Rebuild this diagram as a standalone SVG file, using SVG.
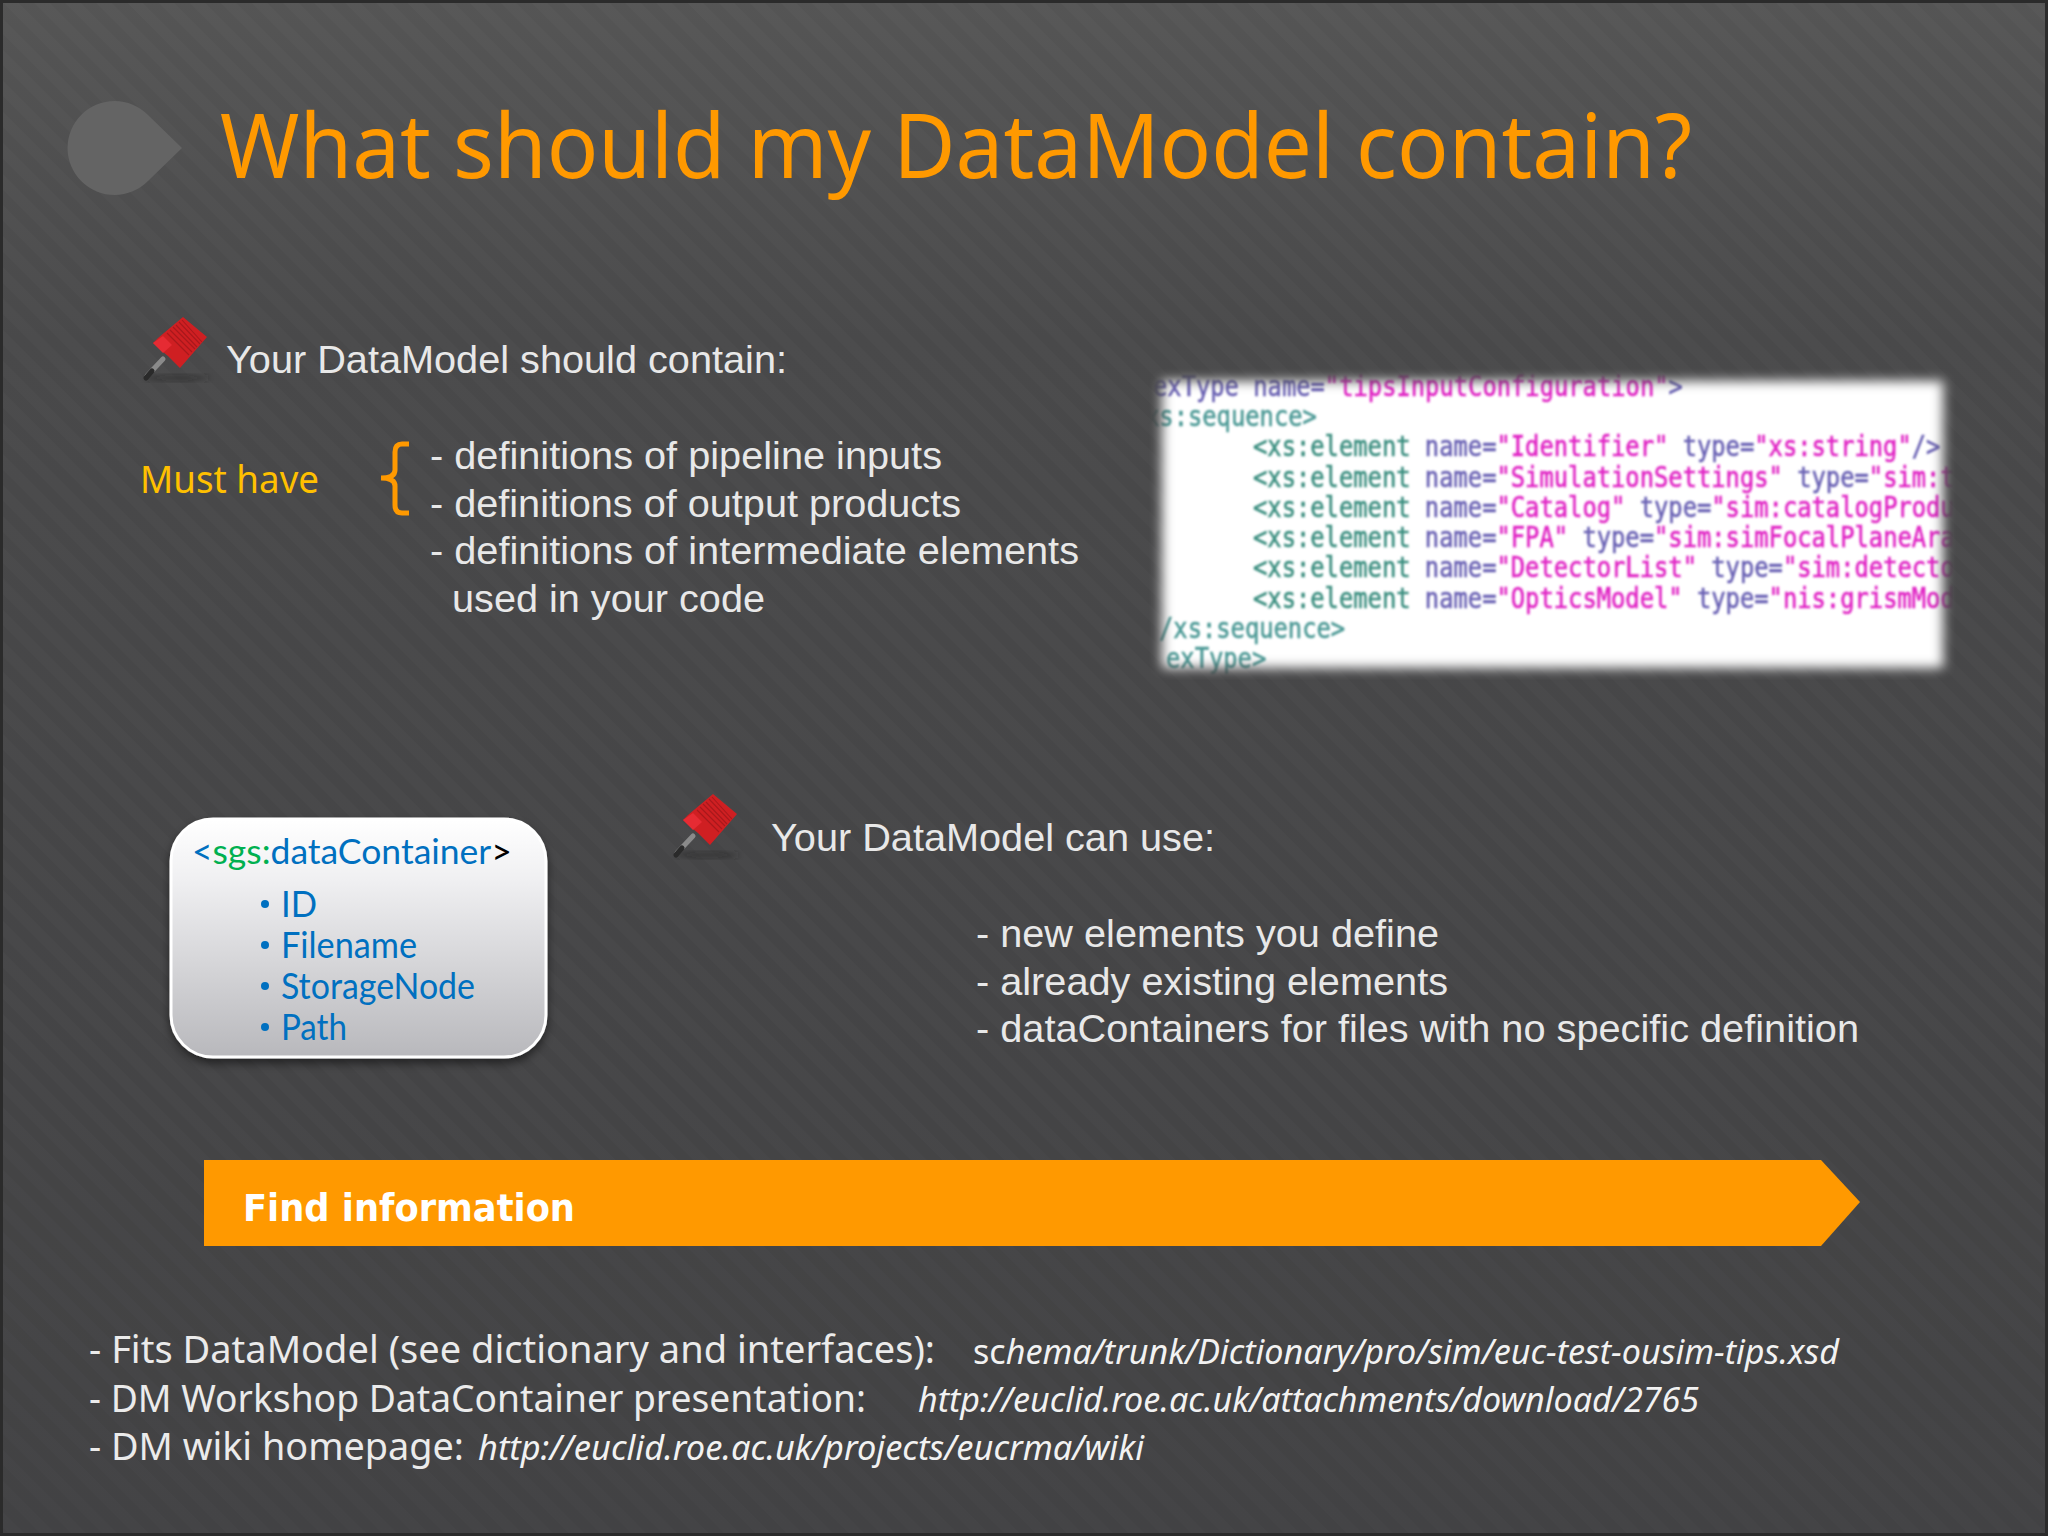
<svg xmlns="http://www.w3.org/2000/svg" xmlns:xlink="http://www.w3.org/1999/xlink" width="2048" height="1536" viewBox="0 0 2048 1536">
<defs>
<linearGradient id="bg" x1="0" y1="0" x2="0" y2="1"><stop offset="0" stop-color="#585858"/><stop offset="0.22" stop-color="#4c4c4d"/><stop offset="1" stop-color="#444446"/></linearGradient>
<pattern id="stripes" width="22" height="22" patternUnits="userSpaceOnUse" patternTransform="rotate(45)"><rect width="22" height="11" fill="#000" fill-opacity="0.035"/></pattern>
<linearGradient id="boxg" x1="0" y1="0" x2="0" y2="1"><stop offset="0" stop-color="#ffffff"/><stop offset="0.25" stop-color="#f0f0f2"/><stop offset="1" stop-color="#b8b8bc"/></linearGradient>
<filter id="soft" x="-10%" y="-10%" width="120%" height="120%"><feGaussianBlur stdDeviation="6"/></filter>
<filter id="codeblur" x="-2%" y="-2%" width="104%" height="104%"><feGaussianBlur stdDeviation="1"/></filter>
<filter id="sh" x="-20%" y="-20%" width="140%" height="140%"><feGaussianBlur stdDeviation="3"/></filter>
<filter id="drop" x="-10%" y="-10%" width="120%" height="125%"><feDropShadow dx="0" dy="5" stdDeviation="5" flood-color="#000" flood-opacity="0.5"/></filter>
<mask id="codemask" maskUnits="userSpaceOnUse" x="1120" y="350" width="860" height="350"><rect x="1162" y="381" width="781" height="287" fill="#fff" filter="url(#soft)"/></mask>
<g id="pin">
<ellipse cx="177" cy="378" rx="32" ry="3" fill="#2a2a2a" fill-opacity="0.6" filter="url(#sh)"/>
<path d="M163 359 L147 376" stroke="#8a8a8a" stroke-width="5" stroke-linecap="round"/>
<path d="M152 371 L146 378" stroke="#2a2a2a" stroke-width="5" stroke-linecap="round"/>
<path d="M183 317 L207 337 L180 368 L168 356 L163 352 L153 343 L158 338 Z" fill="#cf1f22"/>
<path d="M153 343 L163 336 L172 345 L163 353 Z" fill="#e62b33"/>
<path d="M170 330 L192 352 M173 327 L195 349 M176 325 L197 347 M179 322 L200 344 M182 320 L202 342 M167 333 L189 355" stroke="#a8181c" stroke-width="1.1" fill="none"/>
</g>
</defs>
<style>
.body{font-family:"Liberation Sans",Arial,sans-serif;font-size:39px;fill:#e8e8e8}
.tah{font-family:"Noto Sans",Tahoma,sans-serif;fill:#ebebeb}
.link{font-family:"Noto Sans",Tahoma,sans-serif;font-size:35px;font-style:italic;fill:#f2f2f2}
.cal{font-family:Lato,"Open Sans",sans-serif;font-size:36px;fill:#0070c0}
.code{font-family:"DejaVu Sans Mono",monospace;font-size:23.8px;stroke-width:0.5}
.t{fill:#3c8f80;stroke:#3c8f80}.n{fill:#6a62b4;stroke:#6a62b4}.v{fill:#e024c4;stroke:#e024c4}.g{fill:#4d9a96;stroke:#4d9a96}
</style>
<rect id="background" width="2048" height="1536" fill="url(#bg)"/>
<rect width="2048" height="1536" fill="url(#stripes)"/>
<rect x="1.5" y="1.5" width="2045" height="1533" fill="none" stroke="#2b2b2b" stroke-width="3"/>
<g id="title">
<path d="M148 115 A47 47 0 1 0 148 181 L182 148 Z" fill="#646464"/>
<text x="220" y="178" font-family="'Noto Sans',Tahoma,sans-serif" font-size="90" fill="#ff9900" textLength="1472" lengthAdjust="spacingAndGlyphs">What should my DataModel contain?</text>
</g>
<g id="should-contain">
<use xlink:href="#pin" href="#pin"/>
<text class="body" x="226" y="373" textLength="561" lengthAdjust="spacingAndGlyphs">Your DataModel should contain:</text>
</g>
<g id="must-have">
<text x="140" y="493" font-family="'Noto Sans',Tahoma,sans-serif" font-size="38" fill="#ffc000" textLength="179" lengthAdjust="spacingAndGlyphs">Must have</text>
<path d="M409 444 L402 444 Q395 444 395 452 L395 470 Q395 478 381 478 Q395 478 395 486 L395 505 Q395 513 402 513 L409 513" fill="none" stroke="#ff9900" stroke-width="5"/>
<text class="body" x="430" y="469" textLength="512" lengthAdjust="spacingAndGlyphs">- definitions of pipeline inputs</text>
<text class="body" x="430" y="517" textLength="531" lengthAdjust="spacingAndGlyphs">- definitions of output products</text>
<text class="body" x="430" y="564" textLength="649" lengthAdjust="spacingAndGlyphs">- definitions of intermediate elements</text>
<text class="body" x="452" y="612" textLength="313" lengthAdjust="spacingAndGlyphs">used in your code</text>
</g>
<g id="code-screenshot" mask="url(#codemask)">
<rect x="1130" y="360" width="840" height="320" fill="#ffffff"/>
<g class="code" filter="url(#codeblur)" transform="translate(0 1.5)">
<text x="1153" y="395" transform="matrix(1 0 0 1.18 0 -71.1)"><tspan class="n">exType name=</tspan><tspan class="v">"tipsInputConfiguration"</tspan><tspan class="n">&gt;</tspan></text>
<text x="1145" y="425" transform="matrix(1 0 0 1.18 0 -76.5)" class="g">xs:sequence&gt;</text>
<text x="1253" y="455" transform="matrix(1 0 0 1.18 0 -81.9)"><tspan class="t">&lt;xs:element</tspan><tspan class="n"> name=</tspan><tspan class="v">"Identifier"</tspan><tspan class="n"> type=</tspan><tspan class="v">"xs:string"</tspan><tspan class="n">/&gt;</tspan></text>
<text x="1253" y="486" transform="matrix(1 0 0 1.18 0 -87.48)"><tspan class="t">&lt;xs:element</tspan><tspan class="n"> name=</tspan><tspan class="v">"SimulationSettings"</tspan><tspan class="n"> type=</tspan><tspan class="v">"sim:t</tspan></text>
<text x="1253" y="516" transform="matrix(1 0 0 1.18 0 -92.88)"><tspan class="t">&lt;xs:element</tspan><tspan class="n"> name=</tspan><tspan class="v">"Catalog"</tspan><tspan class="n"> type=</tspan><tspan class="v">"sim:catalogProdu</tspan></text>
<text x="1253" y="546" transform="matrix(1 0 0 1.18 0 -98.28)"><tspan class="t">&lt;xs:element</tspan><tspan class="n"> name=</tspan><tspan class="v">"FPA"</tspan><tspan class="n"> type=</tspan><tspan class="v">"sim:simFocalPlaneAra</tspan></text>
<text x="1253" y="576" transform="matrix(1 0 0 1.18 0 -103.68)"><tspan class="t">&lt;xs:element</tspan><tspan class="n"> name=</tspan><tspan class="v">"DetectorList"</tspan><tspan class="n"> type=</tspan><tspan class="v">"sim:detecto</tspan></text>
<text x="1253" y="607" transform="matrix(1 0 0 1.18 0 -109.26)"><tspan class="t">&lt;xs:element</tspan><tspan class="n"> name=</tspan><tspan class="v">"OpticsModel"</tspan><tspan class="n"> type=</tspan><tspan class="v">"nis:grismMod</tspan></text>
<text x="1159" y="637" transform="matrix(1 0 0 1.18 0 -114.66)" class="g">/xs:sequence&gt;</text>
<text x="1166" y="667" transform="matrix(1 0 0 1.18 0 -120.06)" class="g">exType&gt;</text>
</g>
</g>
<g id="data-container">
<rect x="171" y="819" width="375" height="238" rx="42" fill="url(#boxg)" stroke="#ffffff" stroke-width="3" filter="url(#drop)"/>
<text class="cal" x="192" y="864" style="font-size:35.5px">&lt;<tspan fill="#00b050">sgs:</tspan>dataContainer<tspan fill="#000">&gt;</tspan></text>
<circle cx="265" cy="904" r="4" fill="#0070c0"/><text class="cal" x="281" y="917" textLength="36" lengthAdjust="spacingAndGlyphs">ID</text>
<circle cx="265" cy="945" r="4" fill="#0070c0"/><text class="cal" x="281" y="958" textLength="136" lengthAdjust="spacingAndGlyphs">Filename</text>
<circle cx="265" cy="986" r="4" fill="#0070c0"/><text class="cal" x="281" y="999" textLength="194" lengthAdjust="spacingAndGlyphs">StorageNode</text>
<circle cx="265" cy="1027" r="4" fill="#0070c0"/><text class="cal" x="281" y="1040" textLength="66" lengthAdjust="spacingAndGlyphs">Path</text>
</g>
<g id="can-use">
<use xlink:href="#pin" href="#pin" x="530" y="477"/>
<text class="body" x="771" y="851" textLength="444" lengthAdjust="spacingAndGlyphs">Your DataModel can use:</text>
<text class="body" x="976" y="947" textLength="463" lengthAdjust="spacingAndGlyphs">- new elements you define</text>
<text class="body" x="976" y="995" textLength="472" lengthAdjust="spacingAndGlyphs">- already existing elements</text>
<text class="body" x="976" y="1042" textLength="883" lengthAdjust="spacingAndGlyphs">- dataContainers for files with no specific definition</text>
</g>
<g id="find-information">
<polygon points="204,1160 1821,1160 1860,1202 1821,1246 204,1246" fill="#ff9900"/>
<text x="243" y="1221" font-family="'DejaVu Sans',Tahoma,sans-serif" font-weight="bold" font-size="37" fill="#fff" textLength="332" lengthAdjust="spacingAndGlyphs">Find information</text>
</g>
<g id="links">
<text class="tah" font-size="39" x="89" y="1363" textLength="846" lengthAdjust="spacingAndGlyphs">- Fits DataModel (see dictionary and interfaces):</text>
<text class="link" x="973" y="1364" textLength="866" lengthAdjust="spacingAndGlyphs"><tspan font-style="normal">sc</tspan>hema/trunk/Dictionary/pro/sim/euc-test-ousim-tips.xsd</text>
<text class="tah" font-size="39" x="89" y="1412" textLength="777" lengthAdjust="spacingAndGlyphs">- DM Workshop DataContainer presentation:</text>
<text class="link" x="918" y="1412" textLength="781" lengthAdjust="spacingAndGlyphs">http://euclid.roe.ac.uk/attachments/download/2765</text>
<text class="tah" font-size="39" x="89" y="1460" textLength="375" lengthAdjust="spacingAndGlyphs">- DM wiki homepage:</text>
<text class="link" x="478" y="1460" textLength="666" lengthAdjust="spacingAndGlyphs">http://euclid.roe.ac.uk/projects/eucrma/wiki</text>
</g>
</svg>
